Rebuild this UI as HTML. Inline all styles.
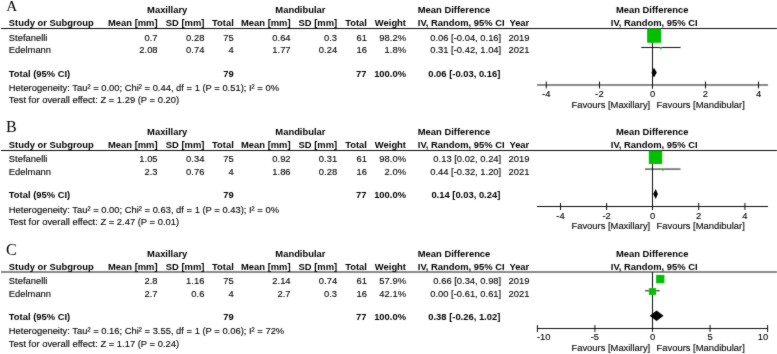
<!DOCTYPE html>
<html><head><meta charset="utf-8"><style>
html,body{margin:0;padding:0;background:#fff;}
svg{display:block;}

text{font-family:"Liberation Sans",Arial,sans-serif;font-size:9.4px;fill:#000;stroke:#000;stroke-width:0.12px;}
text[font-weight=bold]{fill:#000;stroke:none;}
text.lab{font-family:"Liberation Serif","Times New Roman",serif;font-size:16px;fill:#000;stroke:none;}
</style></head><body>
<svg width="777" height="354" viewBox="0 0 777 354">
<defs><filter id="bl" x="0" y="0" width="1" height="1"><feConvolveMatrix order="3" kernelMatrix="1 2 1 2 24 2 1 2 1" edgeMode="none" preserveAlpha="false"/></filter></defs>
<rect width="777" height="354" fill="#fff"/>
<g filter="url(#bl)">
<line x1="1.00" y1="28.50" x2="777.00" y2="28.50" stroke="#111" stroke-width="1"/>
<line x1="537.00" y1="85.00" x2="768.00" y2="85.00" stroke="#111" stroke-width="1"/>
<line x1="546.30" y1="81.50" x2="546.30" y2="88.50" stroke="#111" stroke-width="1"/>
<line x1="599.50" y1="81.50" x2="599.50" y2="88.50" stroke="#111" stroke-width="1"/>
<line x1="652.50" y1="81.50" x2="652.50" y2="88.50" stroke="#111" stroke-width="1"/>
<line x1="705.50" y1="81.50" x2="705.50" y2="88.50" stroke="#111" stroke-width="1"/>
<line x1="758.50" y1="81.50" x2="758.50" y2="88.50" stroke="#111" stroke-width="1"/>
<line x1="652.50" y1="28.50" x2="652.50" y2="88.50" stroke="#111" stroke-width="1"/>
<line x1="641.20" y1="47.50" x2="680.60" y2="47.50" stroke="#111" stroke-width="1"/>
<rect x="647.10" y="28.50" width="14.00" height="14.30" fill="#00c000"/>
<rect x="659.80" y="47.10" width="1.80" height="1.80" fill="#00c000"/>
<polygon points="651.40,72.55 654.00,67.70 656.80,72.55 654.00,77.40" fill="#000"/>
<line x1="1.00" y1="150.50" x2="777.00" y2="150.50" stroke="#111" stroke-width="1"/>
<line x1="537.00" y1="206.50" x2="768.00" y2="206.50" stroke="#111" stroke-width="1"/>
<line x1="560.50" y1="203.00" x2="560.50" y2="210.00" stroke="#111" stroke-width="1"/>
<line x1="606.60" y1="203.00" x2="606.60" y2="210.00" stroke="#111" stroke-width="1"/>
<line x1="652.50" y1="203.00" x2="652.50" y2="210.00" stroke="#111" stroke-width="1"/>
<line x1="698.70" y1="203.00" x2="698.70" y2="210.00" stroke="#111" stroke-width="1"/>
<line x1="744.90" y1="203.00" x2="744.90" y2="210.00" stroke="#111" stroke-width="1"/>
<line x1="652.50" y1="150.50" x2="652.50" y2="210.00" stroke="#111" stroke-width="1"/>
<line x1="645.00" y1="169.10" x2="680.50" y2="169.10" stroke="#111" stroke-width="1"/>
<rect x="648.80" y="150.70" width="13.40" height="13.30" fill="#00c000"/>
<rect x="661.80" y="168.80" width="1.80" height="1.80" fill="#00c000"/>
<polygon points="653.20,194.10 655.70,189.10 657.90,194.10 655.70,199.10" fill="#000"/>
<line x1="1.00" y1="272.00" x2="777.00" y2="272.00" stroke="#111" stroke-width="1"/>
<line x1="537.00" y1="328.50" x2="768.00" y2="328.50" stroke="#111" stroke-width="1"/>
<line x1="537.40" y1="325.00" x2="537.40" y2="332.00" stroke="#111" stroke-width="1"/>
<line x1="594.90" y1="325.00" x2="594.90" y2="332.00" stroke="#111" stroke-width="1"/>
<line x1="652.50" y1="325.00" x2="652.50" y2="332.00" stroke="#111" stroke-width="1"/>
<line x1="710.10" y1="325.00" x2="710.10" y2="332.00" stroke="#111" stroke-width="1"/>
<line x1="767.60" y1="325.00" x2="767.60" y2="332.00" stroke="#111" stroke-width="1"/>
<line x1="652.50" y1="272.00" x2="652.50" y2="332.00" stroke="#111" stroke-width="1"/>
<line x1="645.10" y1="290.80" x2="659.80" y2="290.80" stroke="#111" stroke-width="1"/>
<rect x="656.10" y="274.90" width="8.30" height="8.40" fill="#00c000"/>
<rect x="648.90" y="288.10" width="7.20" height="6.80" fill="#00c000"/>
<polygon points="649.70,315.75 656.60,310.60 663.50,315.75 656.60,320.90" fill="#000"/>
<text x="6.2" y="10.9" class="lab" style="font-size:15.2px">A</text>
<text x="167.20" y="13.50" text-anchor="middle" font-weight="bold" transform="matrix(1 0 0 1.06 0 -0.810)">Maxillary</text>
<text x="300.40" y="13.50" text-anchor="middle" font-weight="bold" transform="matrix(1 0 0 1.06 0 -0.810)">Mandibular</text>
<text x="417.80" y="13.50" text-anchor="start" font-weight="bold" transform="matrix(1 0 0 1.06 0 -0.810)">Mean Difference</text>
<text x="652.20" y="13.50" text-anchor="middle" font-weight="bold" transform="matrix(1 0 0 1.06 0 -0.810)">Mean Difference</text>
<text x="8.80" y="26.30" text-anchor="start" font-weight="bold" transform="matrix(1 0 0 1.06 0 -1.578)">Study or Subgroup</text>
<text x="157.60" y="26.30" text-anchor="end" font-weight="bold" transform="matrix(1 0 0 1.06 0 -1.578)">Mean [mm]</text>
<text x="204.40" y="26.30" text-anchor="end" font-weight="bold" transform="matrix(1 0 0 1.06 0 -1.578)">SD [mm]</text>
<text x="233.80" y="26.30" text-anchor="end" font-weight="bold" transform="matrix(1 0 0 1.06 0 -1.578)">Total</text>
<text x="290.60" y="26.30" text-anchor="end" font-weight="bold" transform="matrix(1 0 0 1.06 0 -1.578)">Mean [mm]</text>
<text x="337.10" y="26.30" text-anchor="end" font-weight="bold" transform="matrix(1 0 0 1.06 0 -1.578)">SD [mm]</text>
<text x="366.90" y="26.30" text-anchor="end" font-weight="bold" transform="matrix(1 0 0 1.06 0 -1.578)">Total</text>
<text x="406.00" y="26.30" text-anchor="end" font-weight="bold" transform="matrix(1 0 0 1.06 0 -1.578)">Weight</text>
<text x="417.80" y="26.30" text-anchor="start" font-weight="bold" transform="matrix(1 0 0 1.06 0 -1.578)">IV, Random, 95% CI</text>
<text x="509.40" y="26.30" text-anchor="start" font-weight="bold" transform="matrix(1 0 0 1.06 0 -1.578)">Year</text>
<text x="654.20" y="26.30" text-anchor="middle" font-weight="bold" transform="matrix(1 0 0 1.06 0 -1.578)">IV, Random, 95% CI</text>
<text x="8.80" y="40.70" text-anchor="start" transform="matrix(1 0 0 1.06 0 -2.442)">Stefanelli</text>
<text x="157.60" y="40.70" text-anchor="end" transform="matrix(1 0 0 1.06 0 -2.442)">0.7</text>
<text x="204.40" y="40.70" text-anchor="end" transform="matrix(1 0 0 1.06 0 -2.442)">0.28</text>
<text x="233.80" y="40.70" text-anchor="end" transform="matrix(1 0 0 1.06 0 -2.442)">75</text>
<text x="290.60" y="40.70" text-anchor="end" transform="matrix(1 0 0 1.06 0 -2.442)">0.64</text>
<text x="337.10" y="40.70" text-anchor="end" transform="matrix(1 0 0 1.06 0 -2.442)">0.3</text>
<text x="366.90" y="40.70" text-anchor="end" transform="matrix(1 0 0 1.06 0 -2.442)">61</text>
<text x="406.00" y="40.70" text-anchor="end" transform="matrix(1 0 0 1.06 0 -2.442)">98.2%</text>
<text x="501.20" y="40.70" text-anchor="end" transform="matrix(1 0 0 1.06 0 -2.442)">0.06 [-0.04, 0.16]</text>
<text x="508.60" y="40.70" text-anchor="start" transform="matrix(1 0 0 1.06 0 -2.442)">2019</text>
<text x="8.80" y="53.30" text-anchor="start" transform="matrix(1 0 0 1.06 0 -3.198)">Edelmann</text>
<text x="157.60" y="53.30" text-anchor="end" transform="matrix(1 0 0 1.06 0 -3.198)">2.08</text>
<text x="204.40" y="53.30" text-anchor="end" transform="matrix(1 0 0 1.06 0 -3.198)">0.74</text>
<text x="233.80" y="53.30" text-anchor="end" transform="matrix(1 0 0 1.06 0 -3.198)">4</text>
<text x="290.60" y="53.30" text-anchor="end" transform="matrix(1 0 0 1.06 0 -3.198)">1.77</text>
<text x="337.10" y="53.30" text-anchor="end" transform="matrix(1 0 0 1.06 0 -3.198)">0.24</text>
<text x="366.90" y="53.30" text-anchor="end" transform="matrix(1 0 0 1.06 0 -3.198)">16</text>
<text x="406.00" y="53.30" text-anchor="end" transform="matrix(1 0 0 1.06 0 -3.198)">1.8%</text>
<text x="501.20" y="53.30" text-anchor="end" transform="matrix(1 0 0 1.06 0 -3.198)">0.31 [-0.42, 1.04]</text>
<text x="508.60" y="53.30" text-anchor="start" transform="matrix(1 0 0 1.06 0 -3.198)">2021</text>
<text x="8.80" y="76.60" text-anchor="start" font-weight="bold" transform="matrix(1 0 0 1.06 0 -4.596)">Total (95% CI)</text>
<text x="233.80" y="76.60" text-anchor="end" font-weight="bold" transform="matrix(1 0 0 1.06 0 -4.596)">79</text>
<text x="366.40" y="76.60" text-anchor="end" font-weight="bold" transform="matrix(1 0 0 1.06 0 -4.596)">77</text>
<text x="406.00" y="76.60" text-anchor="end" font-weight="bold" transform="matrix(1 0 0 1.06 0 -4.596)">100.0%</text>
<text x="500.30" y="76.60" text-anchor="end" font-weight="bold" transform="matrix(1 0 0 1.06 0 -4.596)">0.06 [-0.03, 0.16]</text>
<text x="8.80" y="90.90" text-anchor="start" transform="matrix(1 0 0 1.06 0 -5.454)">Heterogeneity: Tau² = 0.00; Chi² = 0.44, df = 1 (P = 0.51); I² = 0%</text>
<text x="8.80" y="103.00" text-anchor="start" transform="matrix(1 0 0 1.06 0 -6.180)">Test for overall effect: Z = 1.29 (P = 0.20)</text>
<text x="546.30" y="96.90" text-anchor="middle" transform="matrix(1 0 0 1.06 0 -5.814)">-4</text>
<text x="599.50" y="96.90" text-anchor="middle" transform="matrix(1 0 0 1.06 0 -5.814)">-2</text>
<text x="652.50" y="96.90" text-anchor="middle" transform="matrix(1 0 0 1.06 0 -5.814)">0</text>
<text x="705.50" y="96.90" text-anchor="middle" transform="matrix(1 0 0 1.06 0 -5.814)">2</text>
<text x="758.50" y="96.90" text-anchor="middle" transform="matrix(1 0 0 1.06 0 -5.814)">4</text>
<text x="650.20" y="107.60" text-anchor="end" transform="matrix(1 0 0 1.06 0 -6.456)">Favours [Maxillary]</text>
<text x="656.60" y="107.60" text-anchor="start" transform="matrix(1 0 0 1.06 0 -6.456)">Favours [Mandibular]</text>
<text x="5.9" y="132.3" class="lab" style="font-size:16px">B</text>
<text x="167.20" y="135.30" text-anchor="middle" font-weight="bold" transform="matrix(1 0 0 1.06 0 -8.118)">Maxillary</text>
<text x="300.40" y="135.30" text-anchor="middle" font-weight="bold" transform="matrix(1 0 0 1.06 0 -8.118)">Mandibular</text>
<text x="417.80" y="135.30" text-anchor="start" font-weight="bold" transform="matrix(1 0 0 1.06 0 -8.118)">Mean Difference</text>
<text x="652.20" y="135.30" text-anchor="middle" font-weight="bold" transform="matrix(1 0 0 1.06 0 -8.118)">Mean Difference</text>
<text x="8.80" y="148.10" text-anchor="start" font-weight="bold" transform="matrix(1 0 0 1.06 0 -8.886)">Study or Subgroup</text>
<text x="157.60" y="148.10" text-anchor="end" font-weight="bold" transform="matrix(1 0 0 1.06 0 -8.886)">Mean [mm]</text>
<text x="204.40" y="148.10" text-anchor="end" font-weight="bold" transform="matrix(1 0 0 1.06 0 -8.886)">SD [mm]</text>
<text x="233.80" y="148.10" text-anchor="end" font-weight="bold" transform="matrix(1 0 0 1.06 0 -8.886)">Total</text>
<text x="290.60" y="148.10" text-anchor="end" font-weight="bold" transform="matrix(1 0 0 1.06 0 -8.886)">Mean [mm]</text>
<text x="337.10" y="148.10" text-anchor="end" font-weight="bold" transform="matrix(1 0 0 1.06 0 -8.886)">SD [mm]</text>
<text x="366.90" y="148.10" text-anchor="end" font-weight="bold" transform="matrix(1 0 0 1.06 0 -8.886)">Total</text>
<text x="406.00" y="148.10" text-anchor="end" font-weight="bold" transform="matrix(1 0 0 1.06 0 -8.886)">Weight</text>
<text x="417.80" y="148.10" text-anchor="start" font-weight="bold" transform="matrix(1 0 0 1.06 0 -8.886)">IV, Random, 95% CI</text>
<text x="509.40" y="148.10" text-anchor="start" font-weight="bold" transform="matrix(1 0 0 1.06 0 -8.886)">Year</text>
<text x="654.20" y="148.10" text-anchor="middle" font-weight="bold" transform="matrix(1 0 0 1.06 0 -8.886)">IV, Random, 95% CI</text>
<text x="8.80" y="162.50" text-anchor="start" transform="matrix(1 0 0 1.06 0 -9.750)">Stefanelli</text>
<text x="157.60" y="162.50" text-anchor="end" transform="matrix(1 0 0 1.06 0 -9.750)">1.05</text>
<text x="204.40" y="162.50" text-anchor="end" transform="matrix(1 0 0 1.06 0 -9.750)">0.34</text>
<text x="233.80" y="162.50" text-anchor="end" transform="matrix(1 0 0 1.06 0 -9.750)">75</text>
<text x="290.60" y="162.50" text-anchor="end" transform="matrix(1 0 0 1.06 0 -9.750)">0.92</text>
<text x="337.10" y="162.50" text-anchor="end" transform="matrix(1 0 0 1.06 0 -9.750)">0.31</text>
<text x="366.90" y="162.50" text-anchor="end" transform="matrix(1 0 0 1.06 0 -9.750)">61</text>
<text x="406.00" y="162.50" text-anchor="end" transform="matrix(1 0 0 1.06 0 -9.750)">98.0%</text>
<text x="501.20" y="162.50" text-anchor="end" transform="matrix(1 0 0 1.06 0 -9.750)">0.13 [0.02, 0.24]</text>
<text x="508.60" y="162.50" text-anchor="start" transform="matrix(1 0 0 1.06 0 -9.750)">2019</text>
<text x="8.80" y="175.10" text-anchor="start" transform="matrix(1 0 0 1.06 0 -10.506)">Edelmann</text>
<text x="157.60" y="175.10" text-anchor="end" transform="matrix(1 0 0 1.06 0 -10.506)">2.3</text>
<text x="204.40" y="175.10" text-anchor="end" transform="matrix(1 0 0 1.06 0 -10.506)">0.76</text>
<text x="233.80" y="175.10" text-anchor="end" transform="matrix(1 0 0 1.06 0 -10.506)">4</text>
<text x="290.60" y="175.10" text-anchor="end" transform="matrix(1 0 0 1.06 0 -10.506)">1.86</text>
<text x="337.10" y="175.10" text-anchor="end" transform="matrix(1 0 0 1.06 0 -10.506)">0.28</text>
<text x="366.90" y="175.10" text-anchor="end" transform="matrix(1 0 0 1.06 0 -10.506)">16</text>
<text x="406.00" y="175.10" text-anchor="end" transform="matrix(1 0 0 1.06 0 -10.506)">2.0%</text>
<text x="501.20" y="175.10" text-anchor="end" transform="matrix(1 0 0 1.06 0 -10.506)">0.44 [-0.32, 1.20]</text>
<text x="508.60" y="175.10" text-anchor="start" transform="matrix(1 0 0 1.06 0 -10.506)">2021</text>
<text x="8.80" y="198.40" text-anchor="start" font-weight="bold" transform="matrix(1 0 0 1.06 0 -11.904)">Total (95% CI)</text>
<text x="233.80" y="198.40" text-anchor="end" font-weight="bold" transform="matrix(1 0 0 1.06 0 -11.904)">79</text>
<text x="366.40" y="198.40" text-anchor="end" font-weight="bold" transform="matrix(1 0 0 1.06 0 -11.904)">77</text>
<text x="406.00" y="198.40" text-anchor="end" font-weight="bold" transform="matrix(1 0 0 1.06 0 -11.904)">100.0%</text>
<text x="500.30" y="198.40" text-anchor="end" font-weight="bold" transform="matrix(1 0 0 1.06 0 -11.904)">0.14 [0.03, 0.24]</text>
<text x="8.80" y="212.70" text-anchor="start" transform="matrix(1 0 0 1.06 0 -12.762)">Heterogeneity: Tau² = 0.00; Chi² = 0.63, df = 1 (P = 0.43); I² = 0%</text>
<text x="8.80" y="224.80" text-anchor="start" transform="matrix(1 0 0 1.06 0 -13.488)">Test for overall effect: Z = 2.47 (P = 0.01)</text>
<text x="560.50" y="218.70" text-anchor="middle" transform="matrix(1 0 0 1.06 0 -13.122)">-4</text>
<text x="606.60" y="218.70" text-anchor="middle" transform="matrix(1 0 0 1.06 0 -13.122)">-2</text>
<text x="652.50" y="218.70" text-anchor="middle" transform="matrix(1 0 0 1.06 0 -13.122)">0</text>
<text x="698.70" y="218.70" text-anchor="middle" transform="matrix(1 0 0 1.06 0 -13.122)">2</text>
<text x="744.90" y="218.70" text-anchor="middle" transform="matrix(1 0 0 1.06 0 -13.122)">4</text>
<text x="650.20" y="229.40" text-anchor="end" transform="matrix(1 0 0 1.06 0 -13.764)">Favours [Maxillary]</text>
<text x="656.60" y="229.40" text-anchor="start" transform="matrix(1 0 0 1.06 0 -13.764)">Favours [Mandibular]</text>
<text x="6.0" y="254.9" class="lab" style="font-size:16px">C</text>
<text x="167.20" y="257.10" text-anchor="middle" font-weight="bold" transform="matrix(1 0 0 1.06 0 -15.426)">Maxillary</text>
<text x="300.40" y="257.10" text-anchor="middle" font-weight="bold" transform="matrix(1 0 0 1.06 0 -15.426)">Mandibular</text>
<text x="417.80" y="257.10" text-anchor="start" font-weight="bold" transform="matrix(1 0 0 1.06 0 -15.426)">Mean Difference</text>
<text x="652.20" y="257.10" text-anchor="middle" font-weight="bold" transform="matrix(1 0 0 1.06 0 -15.426)">Mean Difference</text>
<text x="8.80" y="269.90" text-anchor="start" font-weight="bold" transform="matrix(1 0 0 1.06 0 -16.194)">Study or Subgroup</text>
<text x="157.60" y="269.90" text-anchor="end" font-weight="bold" transform="matrix(1 0 0 1.06 0 -16.194)">Mean [mm]</text>
<text x="204.40" y="269.90" text-anchor="end" font-weight="bold" transform="matrix(1 0 0 1.06 0 -16.194)">SD [mm]</text>
<text x="233.80" y="269.90" text-anchor="end" font-weight="bold" transform="matrix(1 0 0 1.06 0 -16.194)">Total</text>
<text x="290.60" y="269.90" text-anchor="end" font-weight="bold" transform="matrix(1 0 0 1.06 0 -16.194)">Mean [mm]</text>
<text x="337.10" y="269.90" text-anchor="end" font-weight="bold" transform="matrix(1 0 0 1.06 0 -16.194)">SD [mm]</text>
<text x="366.90" y="269.90" text-anchor="end" font-weight="bold" transform="matrix(1 0 0 1.06 0 -16.194)">Total</text>
<text x="406.00" y="269.90" text-anchor="end" font-weight="bold" transform="matrix(1 0 0 1.06 0 -16.194)">Weight</text>
<text x="417.80" y="269.90" text-anchor="start" font-weight="bold" transform="matrix(1 0 0 1.06 0 -16.194)">IV, Random, 95% CI</text>
<text x="509.40" y="269.90" text-anchor="start" font-weight="bold" transform="matrix(1 0 0 1.06 0 -16.194)">Year</text>
<text x="654.20" y="269.90" text-anchor="middle" font-weight="bold" transform="matrix(1 0 0 1.06 0 -16.194)">IV, Random, 95% CI</text>
<text x="8.80" y="284.30" text-anchor="start" transform="matrix(1 0 0 1.06 0 -17.058)">Stefanelli</text>
<text x="157.60" y="284.30" text-anchor="end" transform="matrix(1 0 0 1.06 0 -17.058)">2.8</text>
<text x="204.40" y="284.30" text-anchor="end" transform="matrix(1 0 0 1.06 0 -17.058)">1.16</text>
<text x="233.80" y="284.30" text-anchor="end" transform="matrix(1 0 0 1.06 0 -17.058)">75</text>
<text x="290.60" y="284.30" text-anchor="end" transform="matrix(1 0 0 1.06 0 -17.058)">2.14</text>
<text x="337.10" y="284.30" text-anchor="end" transform="matrix(1 0 0 1.06 0 -17.058)">0.74</text>
<text x="366.90" y="284.30" text-anchor="end" transform="matrix(1 0 0 1.06 0 -17.058)">61</text>
<text x="406.00" y="284.30" text-anchor="end" transform="matrix(1 0 0 1.06 0 -17.058)">57.9%</text>
<text x="501.20" y="284.30" text-anchor="end" transform="matrix(1 0 0 1.06 0 -17.058)">0.66 [0.34, 0.98]</text>
<text x="508.60" y="284.30" text-anchor="start" transform="matrix(1 0 0 1.06 0 -17.058)">2019</text>
<text x="8.80" y="296.90" text-anchor="start" transform="matrix(1 0 0 1.06 0 -17.814)">Edelmann</text>
<text x="157.60" y="296.90" text-anchor="end" transform="matrix(1 0 0 1.06 0 -17.814)">2.7</text>
<text x="204.40" y="296.90" text-anchor="end" transform="matrix(1 0 0 1.06 0 -17.814)">0.6</text>
<text x="233.80" y="296.90" text-anchor="end" transform="matrix(1 0 0 1.06 0 -17.814)">4</text>
<text x="290.60" y="296.90" text-anchor="end" transform="matrix(1 0 0 1.06 0 -17.814)">2.7</text>
<text x="337.10" y="296.90" text-anchor="end" transform="matrix(1 0 0 1.06 0 -17.814)">0.3</text>
<text x="366.90" y="296.90" text-anchor="end" transform="matrix(1 0 0 1.06 0 -17.814)">16</text>
<text x="406.00" y="296.90" text-anchor="end" transform="matrix(1 0 0 1.06 0 -17.814)">42.1%</text>
<text x="501.20" y="296.90" text-anchor="end" transform="matrix(1 0 0 1.06 0 -17.814)">0.00 [-0.61, 0.61]</text>
<text x="508.60" y="296.90" text-anchor="start" transform="matrix(1 0 0 1.06 0 -17.814)">2021</text>
<text x="8.80" y="320.20" text-anchor="start" font-weight="bold" transform="matrix(1 0 0 1.06 0 -19.212)">Total (95% CI)</text>
<text x="233.80" y="320.20" text-anchor="end" font-weight="bold" transform="matrix(1 0 0 1.06 0 -19.212)">79</text>
<text x="366.40" y="320.20" text-anchor="end" font-weight="bold" transform="matrix(1 0 0 1.06 0 -19.212)">77</text>
<text x="406.00" y="320.20" text-anchor="end" font-weight="bold" transform="matrix(1 0 0 1.06 0 -19.212)">100.0%</text>
<text x="500.30" y="320.20" text-anchor="end" font-weight="bold" transform="matrix(1 0 0 1.06 0 -19.212)">0.38 [-0.26, 1.02]</text>
<text x="8.80" y="334.50" text-anchor="start" transform="matrix(1 0 0 1.06 0 -20.070)">Heterogeneity: Tau² = 0.16; Chi² = 3.55, df = 1 (P = 0.06); I² = 72%</text>
<text x="8.80" y="346.60" text-anchor="start" transform="matrix(1 0 0 1.06 0 -20.796)">Test for overall effect: Z = 1.17 (P = 0.24)</text>
<text x="537.00" y="340.50" text-anchor="start" transform="matrix(1 0 0 1.06 0 -20.430)">-10</text>
<text x="594.90" y="340.50" text-anchor="middle" transform="matrix(1 0 0 1.06 0 -20.430)">-5</text>
<text x="652.50" y="340.50" text-anchor="middle" transform="matrix(1 0 0 1.06 0 -20.430)">0</text>
<text x="710.10" y="340.50" text-anchor="middle" transform="matrix(1 0 0 1.06 0 -20.430)">5</text>
<text x="768.20" y="340.50" text-anchor="end" transform="matrix(1 0 0 1.06 0 -20.430)">10</text>
<text x="650.20" y="351.20" text-anchor="end" transform="matrix(1 0 0 1.06 0 -21.072)">Favours [Maxillary]</text>
<text x="656.60" y="351.20" text-anchor="start" transform="matrix(1 0 0 1.06 0 -21.072)">Favours [Mandibular]</text>
</g>
</svg>
</body></html>
